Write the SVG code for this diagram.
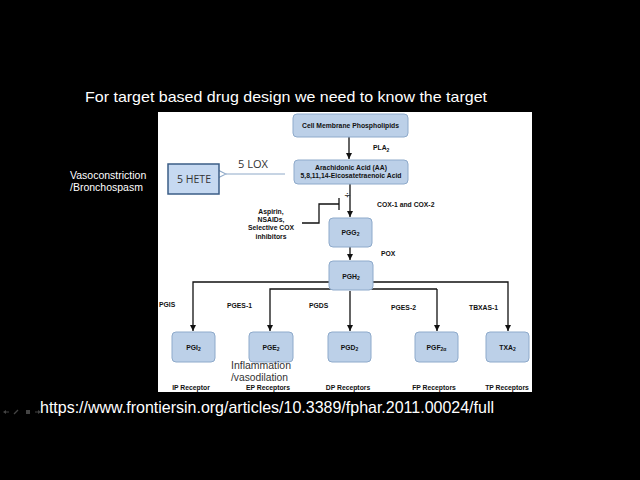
<svg xmlns="http://www.w3.org/2000/svg" width="640" height="480" viewBox="0 0 640 480">
<defs>
<style>
.bg{fill:#000}
.panel{fill:#fff}
.node rect{fill:#bcd0e8;stroke:#8eaacb;stroke-width:1}
.b{font-family:"Liberation Sans",Arial,sans-serif;font-weight:bold;font-size:6.8px;fill:#111}
.c{text-anchor:middle}
.w{font-family:"Liberation Sans",Arial,sans-serif;fill:#fff}
.g{font-family:"Open Sans","Liberation Sans",sans-serif;fill:#333}
.ln{fill:none;stroke:#111;stroke-width:1.3}
.sub{font-size:5px}
</style>
<marker id="ah" viewBox="0 0 10 10" refX="10" refY="5" markerWidth="6" markerHeight="6" markerUnits="userSpaceOnUse" orient="auto"><path d="M0,0 L10,5 L0,10 z" fill="#111"/></marker>
<marker id="ao" viewBox="0 0 10 10" refX="1" refY="5" markerWidth="9" markerHeight="9" markerUnits="userSpaceOnUse" orient="auto"><path d="M9,1 L1,5 L9,9" fill="none" stroke="#8ea9c8" stroke-width="1.2"/></marker>
</defs>
<rect class="bg" x="0" y="0" width="640" height="480"/>
<text class="w" x="85" y="102" font-size="15" textLength="402" lengthAdjust="spacingAndGlyphs">For target based drug design we need to know the target</text>
<rect class="panel" x="158" y="112" width="374" height="280"/>

<g id="connectors">
<path class="ln" d="M349,137 V159" marker-end="url(#ah)"/>
<path class="ln" d="M350,184 V217" marker-end="url(#ah)"/>
<path class="ln" d="M350,247 V260" marker-end="url(#ah)"/>
<path class="ln" d="M329,282 H193 V331" marker-end="url(#ah)"/>
<path class="ln" d="M373,282 H508 V331" marker-end="url(#ah)"/>
<path class="ln" d="M437,289 H270 V331" marker-end="url(#ah)"/>
<path class="ln" d="M437,289 V331" marker-end="url(#ah)"/>
<path class="ln" d="M350,291 V331" marker-end="url(#ah)"/>
<path class="ln" d="M302,223 H319 V204 H339"/>
<path class="ln" d="M339,198 V210"/>
<path d="M285,174 H226" fill="none" stroke="#8ea9c8" stroke-width="1" marker-end="url(#ao)"/>
</g>

<g id="cell-membrane" class="node"><rect x="293" y="114" width="115" height="23" rx="4"/><text class="b c" x="350.5" y="128">Cell Membrane Phospholipids</text></g>
<g id="aa" class="node"><rect x="294" y="160" width="114" height="24" rx="4"/><text class="b c" x="351" y="169.5">Arachidonic Acid (AA)</text><text class="b c" x="351" y="177.5">5,8,11,14-Eicosatetraenoic Acid</text></g>
<g id="pgg2" class="node"><rect x="329" y="218" width="43" height="29" rx="4"/><text class="b c" x="350.5" y="234.5">PGG<tspan class="sub" dy="1.5">2</tspan></text></g>
<g id="pgh2" class="node"><rect x="329" y="261" width="44" height="29" rx="4"/><text class="b c" x="351" y="278.5">PGH<tspan class="sub" dy="1.5">2</tspan></text></g>
<g id="pgi2" class="node"><rect x="172" y="332" width="43" height="30" rx="4"/><text class="b c" x="193.5" y="349.5">PGI<tspan class="sub" dy="1.5">2</tspan></text></g>
<g id="pge2" class="node"><rect x="249" y="332" width="44" height="30" rx="4"/><text class="b c" x="271" y="349.5">PGE<tspan class="sub" dy="1.5">2</tspan></text></g>
<g id="pgd2" class="node"><rect x="328" y="332" width="43" height="30" rx="4"/><text class="b c" x="349.5" y="349.5">PGD<tspan class="sub" dy="1.5">2</tspan></text></g>
<g id="pgf2a" class="node"><rect x="415" y="332" width="43" height="30" rx="4"/><text class="b c" x="436.5" y="349.5">PGF<tspan class="sub" dy="1.5">2α</tspan></text></g>
<g id="txa2" class="node"><rect x="486" y="332" width="43" height="30" rx="4"/><text class="b c" x="507.5" y="349.5">TXA<tspan class="sub" dy="1.5">2</tspan></text></g>
<g id="hete"><rect x="168" y="164" width="51" height="30" fill="#c6d9f1" stroke="#3b5d86" stroke-width="1.5"/><text class="g" x="177" y="183" font-size="11" textLength="34" lengthAdjust="spacingAndGlyphs">5 HETE</text></g>

<g id="labels">
<text class="b" x="373" y="150">PLA<tspan class="sub" dy="1.5">2</tspan></text>
<text class="b" x="377" y="206.5">COX-1 and COX-2</text>
<text class="b" x="381" y="256">POX</text>
<text x="344" y="198" font-family="'DejaVu Sans',sans-serif" font-size="8" fill="#222">÷</text>
<text class="b c" x="271" y="213.5">Aspirin,</text>
<text class="b c" x="271" y="221.5">NSAIDs,</text>
<text class="b c" x="271" y="230">Selective COX</text>
<text class="b c" x="271" y="238.5">inhibitors</text>
<text class="b" x="159" y="306.5">PGIS</text>
<text class="b" x="227" y="307.5">PGES-1</text>
<text class="b" x="309" y="307.5">PGDS</text>
<text class="b" x="391" y="309.5">PGES-2</text>
<text class="b" x="469" y="309.5">TBXAS-1</text>
<text class="b c" x="191" y="389.5">IP Receptor</text>
<text class="b c" x="268" y="389.5">EP Receptors</text>
<text class="b c" x="348" y="389.5">DP Receptors</text>
<text class="b c" x="434" y="389.5">FP Receptors</text>
<text class="b c" x="507" y="389.5">TP Receptors</text>
<text class="g" x="238" y="168" font-size="11" textLength="30" lengthAdjust="spacingAndGlyphs">5 LOX</text>
<text x="231" y="369" font-family="'Liberation Sans',Arial,sans-serif" fill="#333" font-size="10" textLength="60" lengthAdjust="spacingAndGlyphs">Inflammation</text>
<text x="231" y="381" font-family="'Liberation Sans',Arial,sans-serif" fill="#333" font-size="10" textLength="57" lengthAdjust="spacingAndGlyphs">/vasodilation</text>
<text class="w" x="70" y="179" font-size="10.5">Vasoconstriction</text>
<text class="w" x="70" y="191" font-size="10.5">/Bronchospasm</text>
</g>

<text class="w" x="40" y="413" font-size="16.5" textLength="454" lengthAdjust="spacingAndGlyphs">https://www.frontiersin.org/articles/10.3389/fphar.2011.00024/full</text>
<g id="controls" fill="#444" stroke="#444">
<path d="M3,412 L6,410 V414 z M6,411.5 H9 V412.5 H6 z" stroke="none"/>
<path d="M14,414 L18,410" stroke-width="1.2"/>
<rect x="26" y="410" width="4" height="4" stroke="none"/>
<path d="M41,412 L38,410 V414 z M35,411.5 H38 V412.5 H35 z" stroke="none"/>
</g>
</svg>
